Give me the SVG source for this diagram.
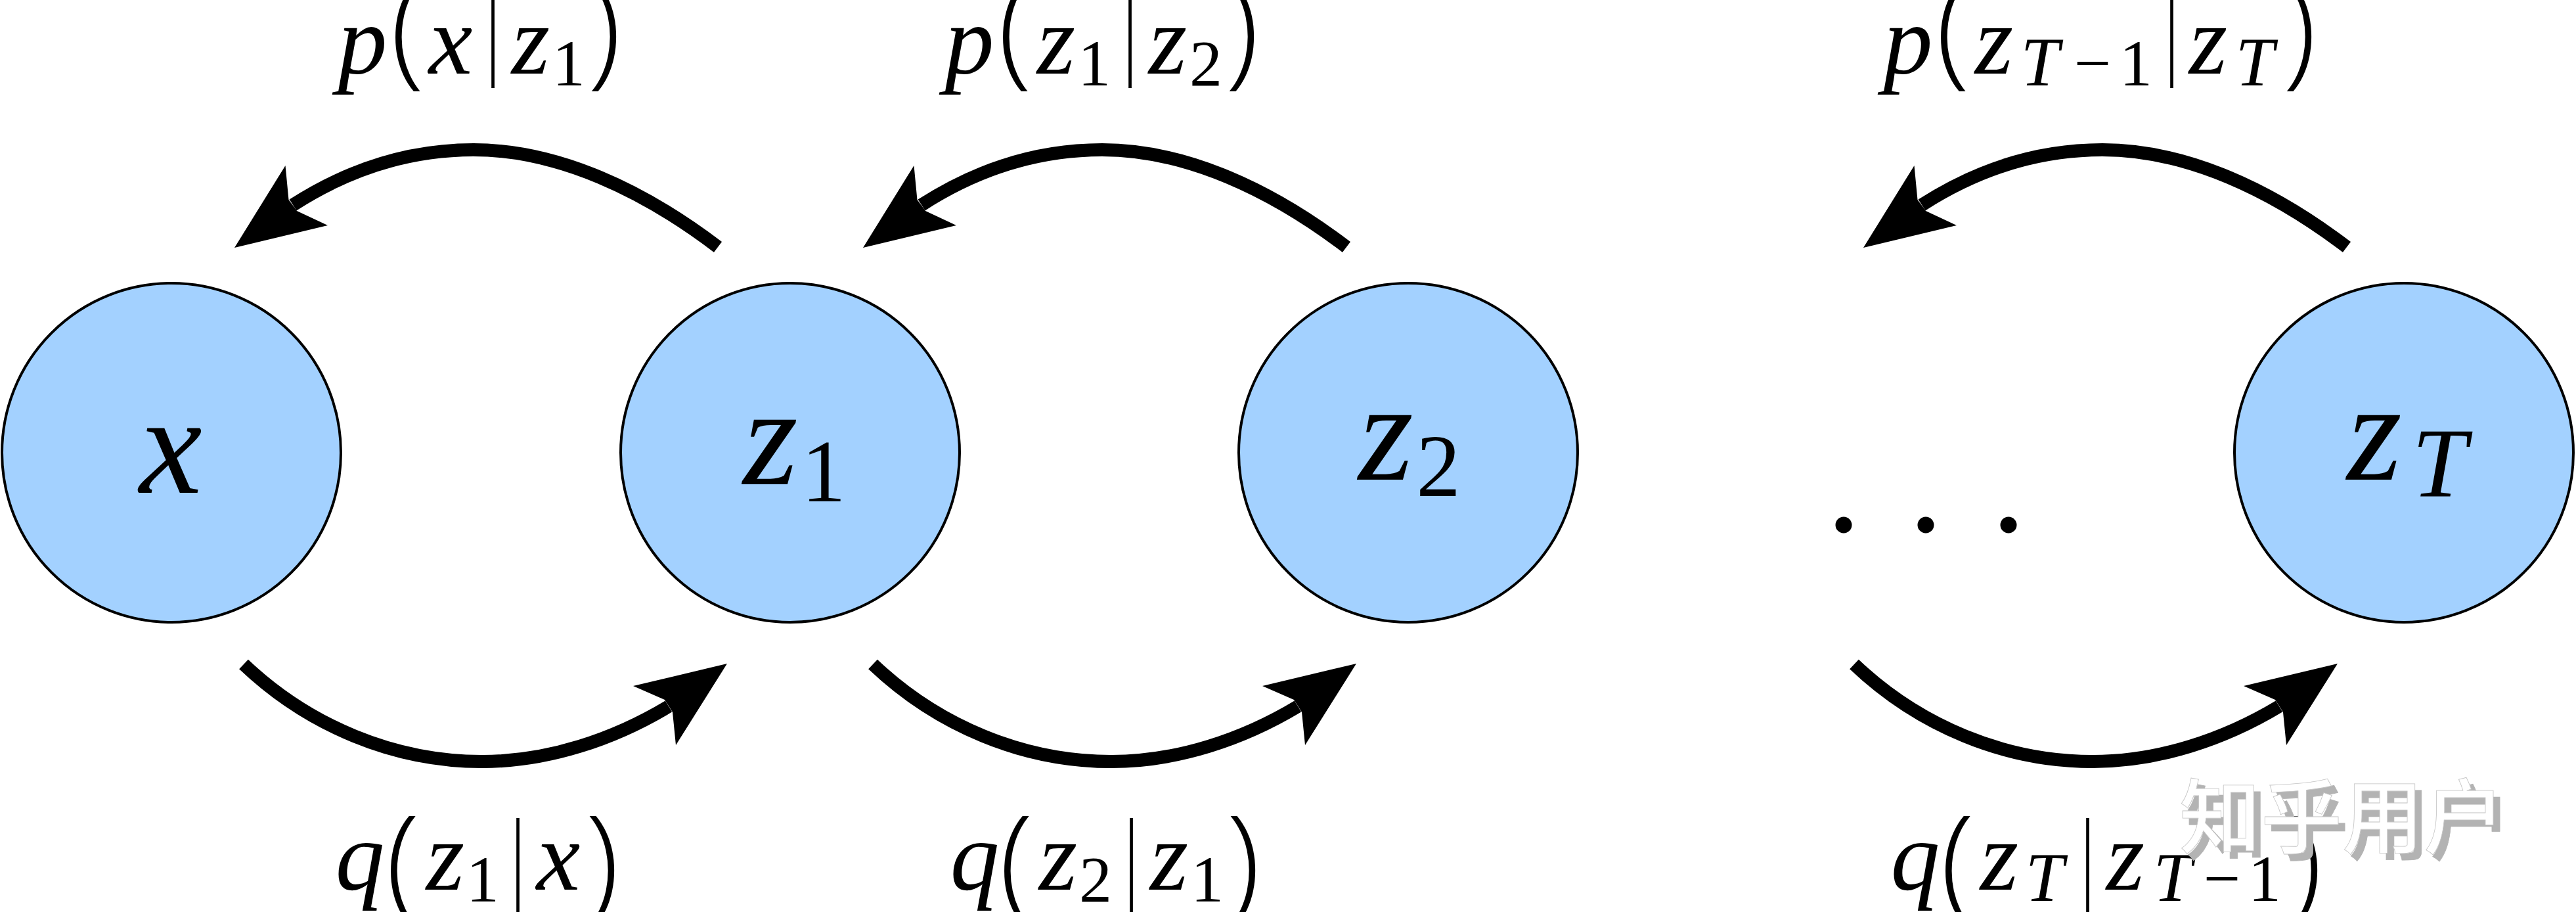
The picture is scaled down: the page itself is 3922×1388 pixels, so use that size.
<svg xmlns="http://www.w3.org/2000/svg" width="3922" height="1388" viewBox="0 0 3922 1388">
<style>
text,tspan{fill:#000;text-anchor:middle}
.m,.s,.t,.M,.S,.T{font-family:'Liberation Serif','Times New Roman',serif}
.m{font-style:italic;font-size:150px}
.s{font-size:100px}
.t{font-style:italic;font-size:105px}
.d{font-family:'Open Sans',sans-serif;font-weight:300;font-size:190px}
.b{font-family:'Roboto',sans-serif;font-weight:100;font-size:180px}
.M{font-style:italic;font-size:215px}
.S{font-size:135px}
.T{font-style:italic;font-size:150px}
.node{fill:#a3d1ff;stroke:#000;stroke-width:4}
.arc{fill:none;stroke:#000;stroke-width:20}
.wm{font-family:'Noto Sans CJK SC',sans-serif;font-size:124px;font-weight:500;fill:#fff;stroke:#c4c4c4;stroke-width:.8;filter:url(#wmshadow)}
</style>
<defs>
<filter id="wmshadow" x="-5%" y="-20%" width="110%" height="140%"><feDropShadow dx="10" dy="10" stdDeviation="0" flood-color="#b3b3b3"/></filter>
<g id="arrow-p"><path class="arc" d="M1093,376 C980,290 850,228 721,228 C620,228 530,258 446,312"/><polygon points="357,377 434.500,252 439.500,304 452,321 499,343"/></g>
<g id="arrow-q"><path class="arc" d="M371,1011 C470,1105 600,1159 734,1159 C835,1159 935,1125 1018,1075"/><polygon points="1107,1010 964,1044 1012,1065 1024,1084 1029,1134"/></g>
</defs>
<rect width="3922" height="1388" fill="#fff"/>
<g id="connectors">
<use href="#arrow-p"/>
<use href="#arrow-p" x="957"/>
<use href="#arrow-p" x="2480"/>
<use href="#arrow-q"/>
<use href="#arrow-q" x="958"/>
<use href="#arrow-q" x="2452"/>
</g>
<g id="node-x"><circle class="node" cx="261" cy="689" r="258"/><text class="M" x="260" y="750">x</text></g>
<g id="node-z1"><circle class="node" cx="1203" cy="689" r="258"/><text><tspan class="M" x="1173" y="737">z</tspan><tspan class="S" x="1254" y="763">1</tspan></text></g>
<g id="node-z2"><circle class="node" cx="2144" cy="689" r="258"/><text><tspan class="M" x="2110" y="730">z</tspan><tspan class="S" x="2190" y="755">2</tspan></text></g>
<g id="node-zT"><circle class="node" cx="3660" cy="689" r="258"/><text><tspan class="M" x="3615" y="730">z</tspan><tspan class="T" x="3714" y="755">T</tspan></text></g>
<g id="ellipsis"><circle cx="2807" cy="799" r="12.500"/><circle cx="2932" cy="799" r="12.500"/><circle cx="3058" cy="799" r="12.500"/></g>
<g id="labels">
<text id="label-p1"><tspan class="m" x="552" y="112">p</tspan><tspan class="d" x="620" y="109">(</tspan><tspan class="m" x="686" y="112">x</tspan><tspan class="b" x="750" y="110">|</tspan><tspan class="m" x="808" y="112">z</tspan><tspan class="s" x="866" y="130">1</tspan><tspan class="d" x="920" y="109">)</tspan></text>
<text id="label-p2"><tspan class="m" x="1476" y="112">p</tspan><tspan class="d" x="1545" y="109">(</tspan><tspan class="m" x="1608" y="112">z</tspan><tspan class="s" x="1666" y="130">1</tspan><tspan class="b" x="1720" y="110">|</tspan><tspan class="m" x="1778" y="112">z</tspan><tspan class="s" x="1836" y="130">2</tspan><tspan class="d" x="1891" y="109">)</tspan></text>
<text id="label-pT"><tspan class="m" x="2905" y="112">p</tspan><tspan class="d" x="2973" y="109">(</tspan><tspan class="m" x="3036" y="112">z</tspan><tspan class="t" x="3106" y="130">T</tspan><tspan class="s" x="3186" y="130">−</tspan><tspan class="s" x="3252" y="130">1</tspan><tspan class="b" x="3306" y="110">|</tspan><tspan class="m" x="3362" y="112">z</tspan><tspan class="t" x="3433" y="130">T</tspan><tspan class="d" x="3501" y="109">)</tspan></text>
<text id="label-q1"><tspan class="m" x="548" y="1354">q</tspan><tspan class="d" x="613" y="1378">(</tspan><tspan class="m" x="678" y="1354">z</tspan><tspan class="s" x="735" y="1372">1</tspan><tspan class="b" x="788" y="1373">|</tspan><tspan class="m" x="850" y="1354">x</tspan><tspan class="d" x="917" y="1378">)</tspan></text>
<text id="label-q2"><tspan class="m" x="1484" y="1354">q</tspan><tspan class="d" x="1547" y="1378">(</tspan><tspan class="m" x="1611" y="1354">z</tspan><tspan class="s" x="1668" y="1372">2</tspan><tspan class="b" x="1722" y="1373">|</tspan><tspan class="m" x="1780" y="1354">z</tspan><tspan class="s" x="1838" y="1372">1</tspan><tspan class="d" x="1893" y="1378">)</tspan></text>
<text id="label-qT"><tspan class="m" x="2916" y="1354">q</tspan><tspan class="d" x="2980" y="1378">(</tspan><tspan class="m" x="3044" y="1354">z</tspan><tspan class="t" x="3113" y="1371">T</tspan><tspan class="b" x="3178" y="1373">|</tspan><tspan class="m" x="3236" y="1354">z</tspan><tspan class="t" x="3308" y="1371">T</tspan><tspan class="s" x="3383" y="1371">−</tspan><tspan class="s" x="3448" y="1371">1</tspan><tspan class="d" x="3510" y="1378">)</tspan></text>
</g>
<text id="watermark" class="wm" x="3566" y="1289">知乎用户</text>
</svg>
